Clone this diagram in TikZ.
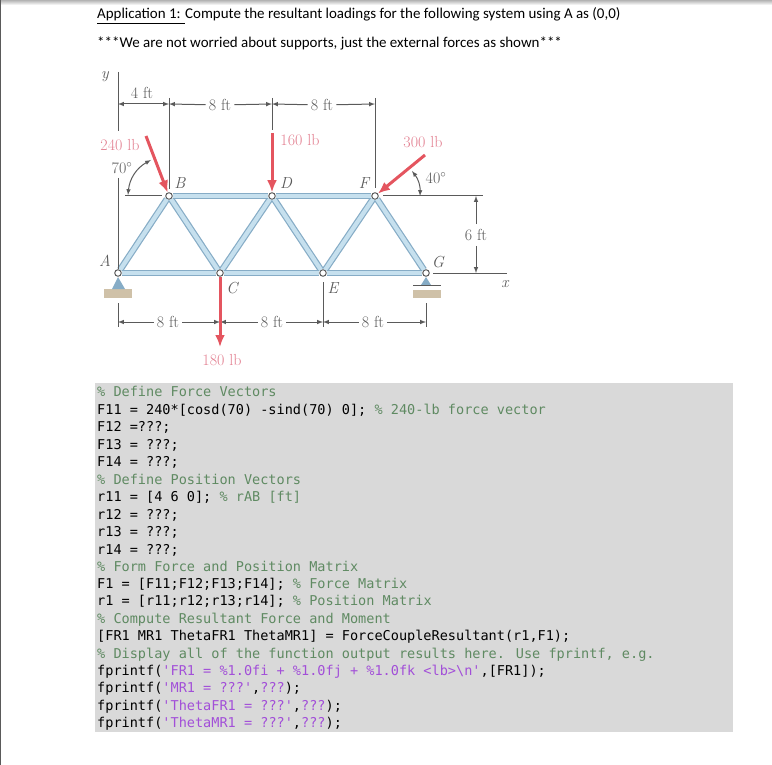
\documentclass[tikz,border=0pt]{standalone}
\usepackage{fontspec}
\usepackage{xcolor}
\usepackage{tikz}
\usetikzlibrary{arrows.meta}
\newfontfamily\codefont{DejaVu Sans Mono}
\newfontfamily\docfont{Carlito}
\definecolor{codegrey}{HTML}{D9D9D9}
\definecolor{cmtgreen}{HTML}{5F8A62}
\definecolor{strpurple}{HTML}{A24FD8}
\definecolor{memberedge}{HTML}{86ACC6}
\definecolor{memberfill}{HTML}{C6E0EE}
\definecolor{dimgrey}{HTML}{5A5A5A}
\definecolor{loadred}{HTML}{E4555F}
\definecolor{loadtext}{HTML}{E27F90}
\definecolor{groundtan}{HTML}{CFC1A8}
\newcommand{\cmt}[1]{\textcolor{cmtgreen}{#1}}
\newcommand{\strg}[1]{\textcolor{strpurple}{#1}}
\tikzset{
  pin/.style={circle, draw=dimgrey, fill=white, line width=1pt, minimum size=6.5pt, inner sep=0pt},
  member/.style={draw=memberedge, double=memberfill, double distance=4.2pt, line width=1.2pt},
  dimline/.style={draw=dimgrey, line width=1pt},
  dimarrow/.style={dimline, ->, >=latex},
  load/.style={draw=loadred, line width=3pt, -{Latex[length=12pt,width=10pt]}},
  dimtext/.style={text=dimgrey, font=\fontsize{16}{18}\selectfont, inner sep=3pt},
  loadtxt/.style={text=loadtext, font=\fontsize{16}{18}\selectfont, inner sep=0pt},
  jointtxt/.style={text=dimgrey, font=\fontsize{16}{18}\selectfont\itshape, inner sep=0pt},
  docline/.style={anchor=base west, inner sep=0pt, font=\docfont\fontsize{14.95}{16}\selectfont},
  codeline/.style={anchor=base west, inner sep=0pt, font=\codefont\fontsize{13.55}{16}\selectfont},
}
\begin{document}
\begin{tikzpicture}[x=1pt, y=-1pt]
        \useasboundingbox (0, 0) rectangle (772, 765);
        \shade[top color=black!30, bottom color=white] (0, 0) rectangle (772, 5);
        \draw[dimgrey, line width=1pt] (0.7, 0) -- (0.7, 765);

        \node[docline] (title) at (97, 19) {\underline{Application 1: }Compute the resultant loadings for the following system using A as (0,0)};
        \node[docline] (note) at (97, 48) {***We are not worried about supports, just the external forces as shown***};

        % ground and supports
        \fill[groundtan] (104, 289) rectangle (132, 298);
        \fill[memberedge] (118, 277) -- (112, 289) -- (125, 289) -- cycle;
        \fill[groundtan] (413, 290) rectangle (441, 298);
        \fill[memberedge] (426, 277) -- (421, 285) -- (431, 285) -- cycle;
        \draw[dimgrey, line width=1pt] (413, 285.5) -- (441, 285.5);

        % joints
        \node[pin] (A) at (118, 273) {};
        \node[pin] (B) at (169, 196) {};
        \node[pin] (C) at (220, 273) {};
        \node[pin] (D) at (272, 196) {};
        \node[pin] (E) at (323, 273) {};
        \node[pin] (F) at (375, 196) {};
        \node[pin] (G) at (426, 273) {};

        \draw[member] (A) -- (B);
        \draw[member] (B) -- (C);
        \draw[member] (C) -- (D);
        \draw[member] (D) -- (E);
        \draw[member] (E) -- (F);
        \draw[member] (F) -- (G);
        \draw[member] (A) -- (C);
        \draw[member] (C) -- (E);
        \draw[member] (E) -- (G);
        \draw[member] (B) -- (D);
        \draw[member] (D) -- (F);

        % extension lines
        \coordinate (ytop) at (118, 72);
        \coordinate (ybreak) at (118, 131);
        \coordinate (yresume) at (118, 178);
        \coordinate (Btop) at (169, 98);
        \coordinate (Bend) at (169, 189);
        \coordinate (Dtop) at (272, 98);
        \coordinate (Dend) at (272, 130);
        \coordinate (Ftop) at (375, 98);
        \coordinate (Fend) at (375, 188);
        \coordinate (Bside) at (125, 196);
        \coordinate (Bstop) at (162, 196);
        \coordinate (Fside) at (383, 196);
        \coordinate (Fright) at (483, 196);
        \coordinate (Gright) at (433, 273);
        \coordinate (xend) at (507, 273);
        \coordinate (Alow) at (118, 303);
        \coordinate (Alowend) at (118, 327);
        \coordinate (Etop) at (323, 282);
        \coordinate (Eend) at (323, 327);
        \coordinate (Glow) at (426, 303);
        \coordinate (Glowend) at (426, 327);
        \draw[dimline] (ytop) -- (ybreak);
        \draw[dimline] (yresume) -- (A);
        \draw[dimline] (Btop) -- (Bend);
        \draw[dimline] (Dtop) -- (Dend);
        \draw[dimline] (Ftop) -- (Fend);
        \draw[dimline] (Bside) -- (Bstop);
        \draw[dimline] (Fside) -- (Fright);
        \draw[dimline] (Gright) -- (xend);
        \draw[dimline] (Alow) -- (Alowend);
        \draw[dimline] (Etop) -- (Eend);
        \draw[dimline] (Glow) -- (Glowend);

        % top dimensions
        \coordinate (topA) at (118, 104);
        \coordinate (topB) at (169, 104);
        \coordinate (topD) at (272, 104);
        \coordinate (topF) at (375, 104);
        \node[dimtext] (fourft) at (142, 93) {4 ft};
        \node[dimtext] (eightBD) at (220, 105) {8 ft};
        \node[dimtext] (eightDF) at (322, 105) {8 ft};
        \draw[dimarrow, <->] (topA) -- (topB);
        \draw[dimarrow] (eightBD) -- (topB);
        \draw[dimarrow] (eightBD) -- (topD);
        \draw[dimarrow] (eightDF) -- (topD);
        \draw[dimarrow] (eightDF) -- (topF);

        % bottom dimensions
        \coordinate (lowA) at (118, 322);
        \coordinate (lowC) at (220, 322);
        \coordinate (lowE) at (323, 322);
        \coordinate (lowG) at (426, 322);
        \node[dimtext] (eightAC) at (168, 322) {8 ft};
        \node[dimtext] (eightCE) at (272, 322) {8 ft};
        \node[dimtext] (eightEG) at (373, 322) {8 ft};
        \draw[dimarrow] (eightAC) -- (lowA);
        \draw[dimarrow] (eightAC) -- (lowC);
        \draw[dimarrow] (eightCE) -- (lowC);
        \draw[dimarrow] (eightCE) -- (lowE);
        \draw[dimarrow] (eightEG) -- (lowE);
        \draw[dimarrow] (eightEG) -- (lowG);

        % height
        \coordinate (sixtop) at (476, 196);
        \coordinate (sixlow) at (476, 273);
        \node[dimtext, inner sep=5pt] (sixft) at (476, 235) {6 ft};
        \draw[dimarrow] (sixft) -- (sixtop);
        \draw[dimarrow] (sixft) -- (sixlow);

        % angles
        \coordinate (arcBa) at (128, 195);
        \coordinate (arcBb) at (151, 160);
        \coordinate (arcFa) at (412, 171);
        \coordinate (arcFb) at (420, 196);
        \draw[dimarrow, <->] (arcBa) to[bend left=28] (arcBb);
        \draw[dimarrow, <->] (arcFa) to[bend left=20] (arcFb);
        \node[dimtext, inner sep=0pt] (seventy) at (122, 168) {70$^\circ$};
        \node[dimtext, inner sep=0pt] (forty) at (436, 178) {40$^\circ$};

        % loads
        \coordinate (loadBtail) at (146, 136);
        \coordinate (loadDtail) at (272, 133);
        \coordinate (loadFtail) at (425, 155);
        \coordinate (loadCtip) at (220, 347);
        \draw[load] (loadBtail) -- (B);
        \draw[load] (loadDtail) -- (D);
        \draw[load] (loadFtail) -- (F);
        \draw[load] (C) -- (loadCtip);
        \node[loadtxt] (lbB) at (120, 145) {240 lb};
        \node[loadtxt] (lbD) at (300, 140) {160 lb};
        \node[loadtxt] (lbF) at (423, 142) {300 lb};
        \node[loadtxt] (lbC) at (222, 360) {180 lb};

        % letters
        \node[jointtxt] (yaxis) at (105, 77) {y};
        \node[jointtxt] (xaxis) at (505, 284) {x};
        \node[jointtxt] (Alabel) at (105, 261) {A};
        \node[jointtxt] (Blabel) at (180, 183) {B};
        \node[jointtxt] (Clabel) at (232, 288) {C};
        \node[jointtxt] (Dlabel) at (286, 183) {D};
        \node[jointtxt] (Elabel) at (333, 288) {E};
        \node[jointtxt] (Flabel) at (364, 183) {F};
        \node[jointtxt] (Glabel) at (438, 262) {G};

        % code block
        \fill[codegrey] (95, 383) rectangle (733, 732);
        \node[codeline] (line1) at (97, 396) {\cmt{\% Define Force Vectors}};
        \node[codeline] (line2) at (97, 414) {F11 = 240*[cosd(70) -sind(70) 0]; \cmt{\% 240-lb force vector}};
        \node[codeline] (line3) at (97, 431) {F12 =???;};
        \node[codeline] (line4) at (97, 449) {F13 = ???;};
        \node[codeline] (line5) at (97, 466) {F14 = ???;};
        \node[codeline] (line6) at (97, 484) {\cmt{\% Define Position Vectors}};
        \node[codeline] (line7) at (97, 501) {r11 = [4 6 0]; \cmt{\% rAB [ft]}};
        \node[codeline] (line8) at (97, 519) {r12 = ???;};
        \node[codeline] (line9) at (97, 536) {r13 = ???;};
        \node[codeline] (line10) at (97, 554) {r14 = ???;};
        \node[codeline] (line11) at (97, 571) {\cmt{\% Form Force and Position Matrix}};
        \node[codeline] (line12) at (97, 588.5) {F1 = [F11;F12;F13;F14]; \cmt{\% Force Matrix}};
        \node[codeline] (line13) at (97, 605.5) {r1 = [r11;r12;r13;r14]; \cmt{\% Position Matrix}};
        \node[codeline] (line14) at (97, 623) {\cmt{\% Compute Resultant Force and Moment}};
        \node[codeline] (line15) at (97, 640.5) {[FR1 MR1 ThetaFR1 ThetaMR1] = ForceCoupleResultant(r1,F1);};
        \node[codeline] (line16) at (97, 658) {\cmt{\% Display all of the function output results here. Use fprintf, e.g.}};
        \node[codeline] (line17) at (97, 675) {fprintf(\strg{'FR1 = \%1.0fi + \%1.0fj + \%1.0fk <lb>\textbackslash n'},[FR1]);};
        \node[codeline] (line18) at (97, 692.5) {fprintf(\strg{'MR1 = ???'},\strg{???});};
        \node[codeline] (line19) at (97, 710) {fprintf(\strg{'ThetaFR1 = ???'},\strg{???});};
        \node[codeline] (line20) at (97, 727) {fprintf(\strg{'ThetaMR1 = ???'},\strg{???});};
      \end{tikzpicture}
\end{document}
